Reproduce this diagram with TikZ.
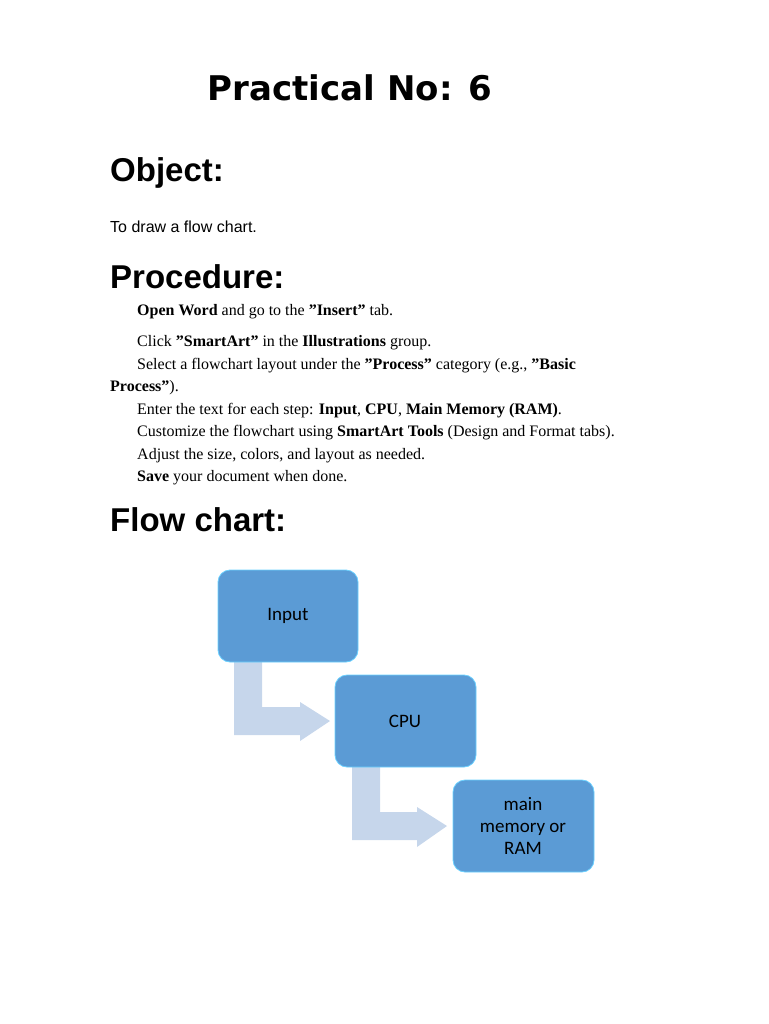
\documentclass[tikz,border=0pt]{standalone}
\usepackage{fontspec}
\setmainfont{Liberation Serif}
\newfontfamily\hsans{Liberation Sans}
\newfontfamily\tsans{DejaVu Sans}
\newfontfamily\bsans{Carlito}
\begin{document}
\begin{tikzpicture}[x=1pt,y=-1pt,
  txt/.style={anchor=base west,inner sep=0pt,font=\fontsize{16}{19}\selectfont},
  head/.style={anchor=base west,inner sep=0pt,font=\hsans\bfseries\fontsize{33}{38}\selectfont},
  box/.style={draw=white!70!blue!60!cyan,fill=boxblue,rounded corners=12pt,line width=0.8pt},
  boxtxt/.style={align=center,font=\bsans\fontsize{19}{22}\selectfont,inner sep=0pt},
  arr/.style={fill=arrblue,draw=none}]
\definecolor{boxblue}{HTML}{5B9BD5}
\definecolor{arrblue}{HTML}{C6D6EB}
\useasboundingbox (0,0) rectangle (768,1024);
\node[anchor=base,inner sep=0pt,font=\tsans\bfseries\fontsize{34}{40}\selectfont] (title) at (350,101) {Practical No: 6};
\node[head] (obj) at (110,182) {Object:};
\node[txt,font=\hsans\fontsize{16}{19}\selectfont] (objt) at (110,233) {To draw a flow chart.};
\node[head] (proc) at (110,288) {Procedure:};
\node[txt] (l1) at (137,315) {\textbf{Open Word} and go to the \textbf{"Insert"} tab.};
\node[txt] (l2) at (137,346) {Click \textbf{"SmartArt"} in the \textbf{Illustrations} group.};
\node[txt] (l3) at (137,369) {Select a flowchart layout under the \textbf{"Process"} category (e.g., \textbf{"Basic}};
\node[txt] (l3b) at (110,391) {\textbf{Process"}).};
\node[txt] (l4) at (137,414) {Enter the text for each step: \textbf{Input}, \textbf{CPU}, \textbf{Main Memory (RAM)}.};
\node[txt] (l5) at (137,436) {Customize the flowchart using \textbf{SmartArt Tools} (Design and Format tabs).};
\node[txt] (l6) at (137,459) {Adjust the size, colors, and layout as needed.};
\node[txt] (l7) at (137,481) {\textbf{Save} your document when done.};
\node[head] (fc) at (110,531) {Flow chart:};
% arrows
\fill[arr] (234,662) -- (262,662) -- (262,707) -- (300,707) -- (300,702) -- (330,721) -- (300,741) -- (300,735) -- (234,735) -- cycle;
\fill[arr] (352,767) -- (380,767) -- (380,812) -- (417,812) -- (417,807) -- (447,826) -- (417,847) -- (417,840) -- (352,840) -- cycle;
% boxes
\draw[box] (218,570) rectangle (358,662);
\node[boxtxt] (input) at (288,616) {Input};
\draw[box] (335,675) rectangle (476,767);
\node[boxtxt] (cpu) at (405,721) {CPU};
\draw[box] (453,780) rectangle (594,872);
\node[boxtxt] (ram) at (523,826) {main\\memory or\\RAM};
\end{tikzpicture}
\end{document}
